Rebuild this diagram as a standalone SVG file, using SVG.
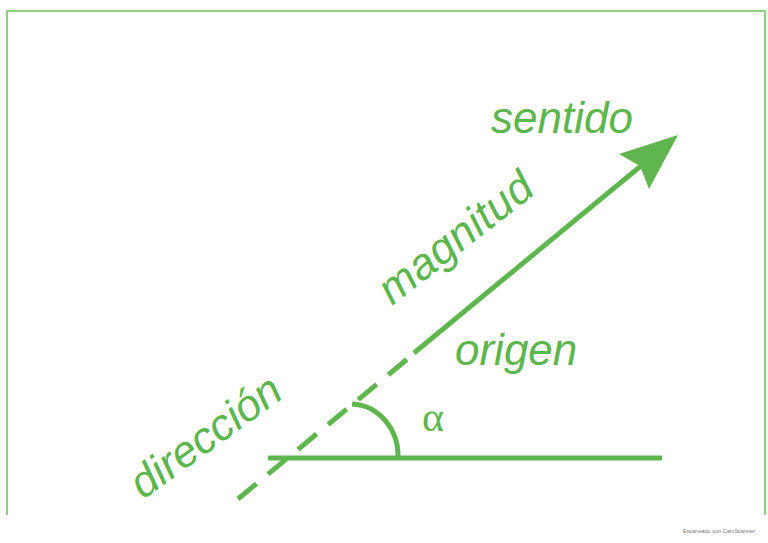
<svg xmlns="http://www.w3.org/2000/svg" width="768" height="543" viewBox="0 0 768 543">
  <style>
    .ln { stroke: #5fb64e; stroke-width: 5; fill: none; stroke-linecap: butt; }
    .lbl { font-family: "Liberation Sans", Arial, sans-serif; font-style: italic; font-size: 44px; fill: #5cb54d; }
    .frame { stroke: #8ccf7c; stroke-width: 2; fill: none; }
  </style>
  <rect width="768" height="543" fill="#ffffff"/>
  <g id="frame">
    <polyline class="frame" points="7,515 7,11 765,11 765,515"/>
  </g>
  <g id="connectors">
    <path class="ln" d="M238,499 L411,356" stroke-dasharray="24 15"/>
    <path class="ln" d="M414,353 L642,165"/>
    <polygon points="678,135 619,154 640,166 649,189" fill="#5fb64e"/>
    <path class="ln" d="M268,458 L662,458"/>
    <path class="ln" d="M352,404 A48,52 0 0 1 398,458"/>
  </g>
  <g id="sentido"><text class="lbl" x="491" y="133">sentido</text></g>
  <g id="magnitud"><text class="lbl" transform="translate(392,306) rotate(-38)" textLength="184">magnitud</text></g>
  <g id="origen"><text class="lbl" x="455" y="365">origen</text></g>
  <g id="direccion"><text class="lbl" transform="translate(143,500) rotate(-36)" textLength="176">dirección</text></g>
  <g id="alpha"><text x="422" y="431" font-family="Liberation Serif, serif" font-size="42" fill="#5cb54d">α</text></g>
  <g id="watermark"><text x="683" y="533" font-family="Liberation Sans, Arial, sans-serif" font-size="6" textLength="72" lengthAdjust="spacingAndGlyphs" fill="#777777">Escaneado con CamScanner</text></g>
</svg>
